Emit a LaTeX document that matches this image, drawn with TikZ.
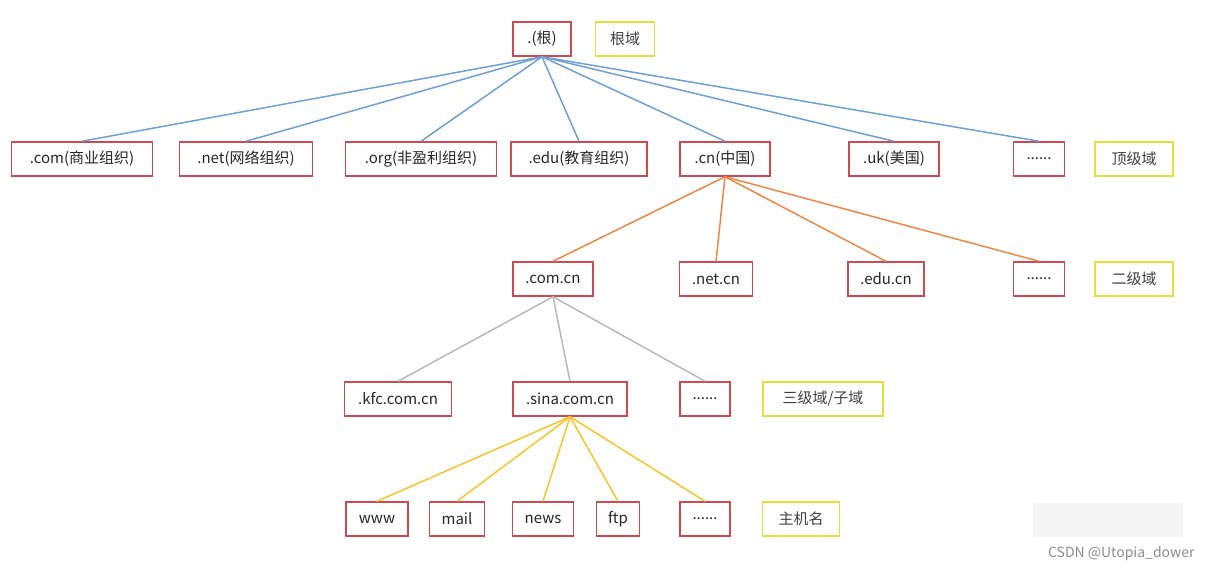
\documentclass[tikz,border=0pt]{standalone}
\usepackage{fontspec}
\setmainfont{Noto Sans CJK SC}
\begin{document}
\begin{tikzpicture}[x=1pt,y=-1pt,
  bx/.style={draw=cr, line width=1.5pt, minimum height=34pt, inner sep=0pt, font=\fontsize{15}{17}\selectfont, text=black!85},
  lb/.style={draw=cl, line width=1.5pt, minimum height=34pt, inner sep=0pt, font=\fontsize{15}{17}\selectfont, text=black!75},
  ln/.style={line width=1.5pt}]
\definecolor{cr}{RGB}{205,75,80}
\definecolor{cl}{RGB}{225,225,60}
\definecolor{cb}{RGB}{110,160,210}
\definecolor{co}{RGB}{237,135,70}
\definecolor{cg}{RGB}{185,185,185}
\definecolor{cy}{RGB}{250,195,40}
\useasboundingbox (0,0) rectangle (1212,573);
\node[bx,minimum width=58pt] (root) at (542,39) {.(根)};
\node[lb,minimum width=59pt] (lroot) at (625,39) {根域};
\node[bx,minimum width=141pt] (com) at (82,159) {.com(商业组织)};
\node[bx,minimum width=133pt] (net) at (246,159) {.net(网络组织)};
\node[bx,minimum width=151pt] (org) at (421,159) {.org(非盈利组织)};
\node[bx,minimum width=136pt] (edu) at (579,159) {.edu(教育组织)};
\node[bx,minimum width=90pt] (cn) at (725,159) {.cn(中国)};
\node[bx,minimum width=90pt] (uk) at (894,159) {.uk(美国)};
\node[bx,minimum width=51pt] (d1) at (1039,159) {......};
\node[lb,minimum width=78pt] (l1) at (1134,159) {顶级域};
\node[bx,minimum width=80pt] (comcn) at (553,279) {.com.cn};
\node[bx,minimum width=73pt] (netcn) at (716,279) {.net.cn};
\node[bx,minimum width=76pt] (educn) at (886,279) {.edu.cn};
\node[bx,minimum width=51pt] (d2) at (1039,279) {......};
\node[lb,minimum width=78pt] (l2) at (1134,279) {二级域};
\node[bx,minimum width=107pt] (kfc) at (398,399) {.kfc.com.cn};
\node[bx,minimum width=114pt] (sina) at (570,399) {.sina.com.cn};
\node[bx,minimum width=50pt] (d3) at (705,399) {......};
\node[lb,minimum width=120pt] (l3) at (823,399) {三级域/子域};
\node[bx,minimum width=62pt] (www) at (377,519) {www};
\node[bx,minimum width=55pt] (mail) at (457,519) {mail};
\node[bx,minimum width=61pt] (news) at (543,519) {news};
\node[bx,minimum width=43pt] (ftp) at (618,519) {ftp};
\node[bx,minimum width=50pt] (d4) at (705,519) {......};
\node[lb,minimum width=77pt] (l4) at (801,519) {主机名};
\foreach \c in {com,net,org,edu,cn,uk,d1} \draw[ln,cb] (root.south) -- (\c.north);
\foreach \c in {comcn,netcn,educn,d2} \draw[ln,co] (cn.south) -- (\c.north);
\foreach \c in {kfc,sina,d3} \draw[ln,cg] (comcn.south) -- (\c.north);
\foreach \c in {www,mail,news,ftp,d4} \draw[ln,cy] (sina.south) -- (\c.north);
\fill[black!4] (1033,503) rectangle (1183,537);
\node[font=\fontsize{14}{16}\selectfont, text=black!45, anchor=east] (wm) at (1198,554) {CSDN @Utopia\_dower};
\end{tikzpicture}
\end{document}
